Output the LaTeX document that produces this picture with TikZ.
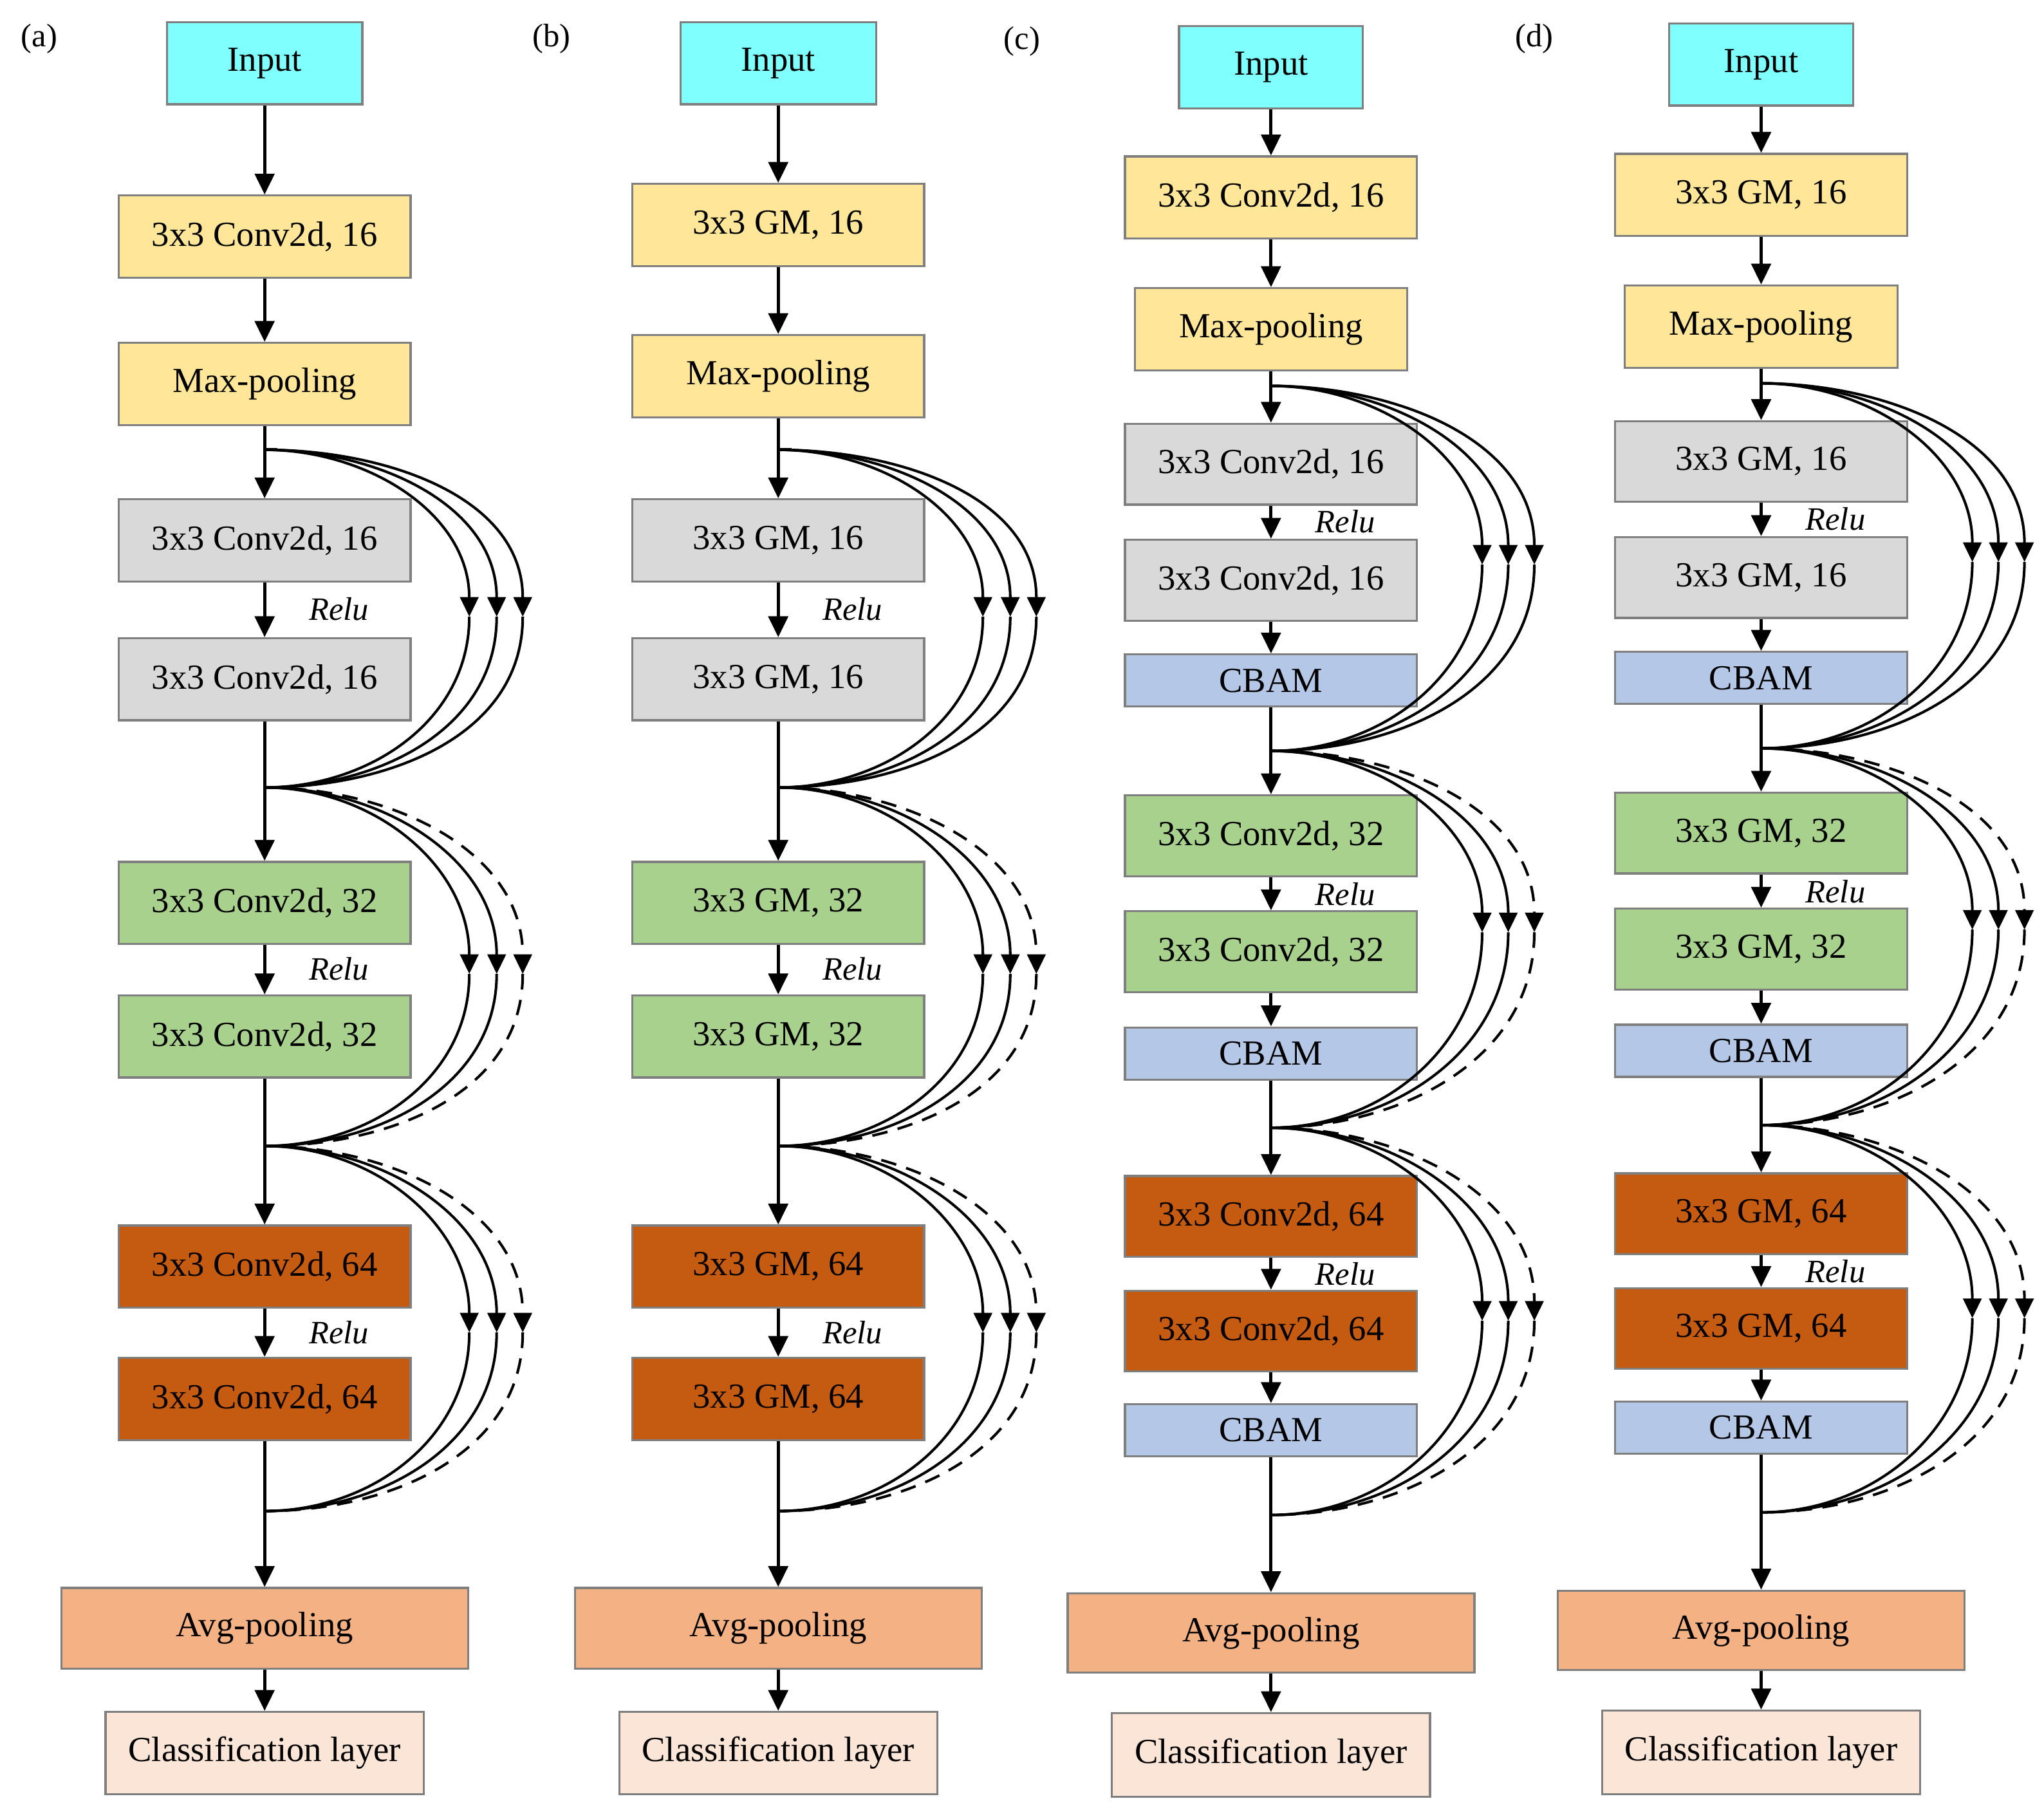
\documentclass[tikz,border=0pt]{standalone}
\usepackage{fontspec}
\setmainfont{Liberation Serif}
\usetikzlibrary{arrows.meta,calc}
\definecolor{cin}{HTML}{80FFFF}
\definecolor{cye}{HTML}{FFE699}
\definecolor{cgr}{HTML}{D9D9D9}
\definecolor{cgn}{HTML}{A9D18E}
\definecolor{cor}{HTML}{C55A11}
\definecolor{cav}{HTML}{F4B183}
\definecolor{ccl}{HTML}{FBE5D6}
\definecolor{ccb}{HTML}{B4C7E7}
\definecolor{cbd}{HTML}{7F7F7F}
\tikzset{
 box/.style={draw=cbd,line width=1.6pt,inner sep=0pt,font=\fontsize{27}{30}\selectfont},
 arr/.style={line width=2.4pt,-{Triangle[length=16pt,width=15pt]}},
 spine/.style={line width=2.4pt},
 arcl/.style={line width=2pt},
 arct/.style={line width=2pt,-{Triangle[length=15pt,width=14pt]}},
 dsh/.style={dash pattern=on 12pt off 8pt},
 relu/.style={font=\itshape\fontsize{25}{28}\selectfont},
 lab/.style={font=\fontsize{25}{28}\selectfont}
}
\newcommand\bx[7]{\node[box,#6,minimum width=#4pt,minimum height=#5pt] (#1) at (#2,#3) {#7};}
% arcs: j1, j2, ymid, x1, x2, x3, style of middle, style of outer
\newcommand\arcs[8]{%
 \foreach \xx/\st in {#4/,#5/#7,#6/#8}{%
  \draw[arct,\st] (#1) to[out=0,in=90,looseness=1] ($(#1)!0!(#1)+(0,0)$ -| \xx,#3) ;
 }}
\newcommand\arcpair[5]{% j1 j2 x ymid style
  \coordinate (tmpm) at (#3,#4);
  \coordinate (tmpe) at (#3,#4+10);
  \draw[arct,#5] (#1) to[out=0,in=90] (tmpe);
  \draw[arcl,#5] (tmpe) to[out=-90,in=0] (#2);
}
\begin{document}
\begin{tikzpicture}[x=1pt,y=-1pt]
\useasboundingbox (0,0) rectangle (1568,1395);
% labels
\node[lab] (la) at (30,30) {(a)};
\node[lab] (lb) at (423,30) {(b)};
\node[lab] (lc) at (784,32) {(c)};
\node[lab] (ld) at (1177,30) {(d)};
% ---------- columns a and b ----------
\foreach \p/\cx/\op/\yc/\ym in {a/203/Conv2d/181.5/294.5, b/597/GM/172.5/288.5}{
 \bx{\p in}{\cx}{48.5}{150}{63}{fill=cin}{Input}
 \bx{\p c0}{\cx}{\yc}{224}{63}{fill=cye}{3x3 \op, 16}
 \bx{\p mp}{\cx}{\ym}{224}{63}{fill=cye}{Max-pooling}
 \bx{\p g1}{\cx}{414.5}{224}{63}{fill=cgr}{3x3 \op, 16}
 \bx{\p g2}{\cx}{521}{224}{63}{fill=cgr}{3x3 \op, 16}
 \bx{\p n1}{\cx}{692.5}{224}{63}{fill=cgn}{3x3 \op, 32}
 \bx{\p n2}{\cx}{795}{224}{63}{fill=cgn}{3x3 \op, 32}
 \bx{\p o1}{\cx}{971.5}{224}{63}{fill=cor}{3x3 \op, 64}
 \bx{\p o2}{\cx}{1073}{224}{63}{fill=cor}{3x3 \op, 64}
 \bx{\p av}{\cx}{1249}{312}{62}{fill=cav}{Avg-pooling}
 \bx{\p cl}{\cx}{1344.5}{244}{63}{fill=ccl}{Classification layer}
 \node[relu] (\p r1) at (\cx+57,467) {Relu};
 \node[relu] (\p r2) at (\cx+57,743) {Relu};
 \node[relu] (\p r3) at (\cx+57,1022) {Relu};
 \coordinate (\p j1) at (\cx,345);
 \coordinate (\p j2) at (\cx,604);
 \coordinate (\p j3) at (\cx,879);
 \coordinate (\p j4) at (\cx,1159);
 \draw[arr] (\p in) -- (\p c0);
 \draw[arr] (\p c0) -- (\p mp);
 \draw[arr] (\p mp) -- (\p g1);
 \draw[arr] (\p g1) -- (\p g2);
 \draw[arr] (\p g2) -- (\p n1);
 \draw[arr] (\p n1) -- (\p n2);
 \draw[arr] (\p n2) -- (\p o1);
 \draw[arr] (\p o1) -- (\p o2);
 \draw[arr] (\p o2) -- (\p av);
 \draw[arr] (\p av) -- (\p cl);
 \draw[spine] (\p j1) -- ++(10,0);
 \arcpair{\p j1}{\p j2}{\cx+157}{463}{}
 \arcpair{\p j1}{\p j2}{\cx+178}{463}{}
 \arcpair{\p j1}{\p j2}{\cx+198}{463}{}
 \arcpair{\p j2}{\p j3}{\cx+157}{737}{}
 \arcpair{\p j2}{\p j3}{\cx+178}{737}{}
 \arcpair{\p j2}{\p j3}{\cx+198}{737}{dsh}
 \arcpair{\p j3}{\p j4}{\cx+157}{1012}{}
 \arcpair{\p j3}{\p j4}{\cx+178}{1012}{}
 \arcpair{\p j3}{\p j4}{\cx+198}{1012}{dsh}
}
% ---------- columns c and d ----------
\foreach \p/\cx/\op/\d in {c/975/Conv2d/0, d/1351/GM/-2}{
 \bx{\p in}{\cx}{51.5+\d}{141}{63}{fill=cin}{Input}
 \bx{\p c0}{\cx}{151.5+\d}{224}{63}{fill=cye}{3x3 \op, 16}
 \bx{\p mp}{\cx}{252.5+\d}{209}{63}{fill=cye}{Max-pooling}
 \bx{\p g1}{\cx}{356+\d}{224}{62}{fill=cgr}{3x3 \op, 16}
 \bx{\p g2}{\cx}{445+\d}{224}{62}{fill=cgr}{3x3 \op, 16}
 \bx{\p b1}{\cx}{522+\d}{224}{40}{fill=ccb}{CBAM}
 \bx{\p n1}{\cx}{641+\d}{224}{62}{fill=cgn}{3x3 \op, 32}
 \bx{\p n2}{\cx}{730+\d}{224}{62}{fill=cgn}{3x3 \op, 32}
 \bx{\p b2}{\cx}{808+\d}{224}{40}{fill=ccb}{CBAM}
 \bx{\p o1}{\cx}{933+\d}{224}{62}{fill=cor}{3x3 \op, 64}
 \bx{\p o2}{\cx}{1021+\d}{224}{62}{fill=cor}{3x3 \op, 64}
 \bx{\p b3}{\cx}{1097+\d}{224}{40}{fill=ccb}{CBAM}
 \bx{\p av}{\cx}{1252.5+\d}{312}{61}{fill=cav}{Avg-pooling}
 \bx{\p cl}{\cx}{1346+\d}{244}{64}{fill=ccl}{Classification layer}
 \node[relu] (\p r1) at (\cx+57,400+\d) {Relu};
 \node[relu] (\p r2) at (\cx+57,686+\d) {Relu};
 \node[relu] (\p r3) at (\cx+57,977+\d) {Relu};
 \coordinate (\p j1) at (\cx,296+\d);
 \coordinate (\p j2) at (\cx,576+\d);
 \coordinate (\p j3) at (\cx,865+\d);
 \coordinate (\p j4) at (\cx,1162+\d);
 \draw[arr] (\p in) -- (\p c0);
 \draw[arr] (\p c0) -- (\p mp);
 \draw[arr] (\p mp) -- (\p g1);
 \draw[arr] (\p g1) -- (\p g2);
 \draw[arr] (\p g2) -- (\p b1);
 \draw[arr] (\p b1) -- (\p n1);
 \draw[arr] (\p n1) -- (\p n2);
 \draw[arr] (\p n2) -- (\p b2);
 \draw[arr] (\p b2) -- (\p o1);
 \draw[arr] (\p o1) -- (\p o2);
 \draw[arr] (\p o2) -- (\p b3);
 \draw[arr] (\p b3) -- (\p av);
 \draw[arr] (\p av) -- (\p cl);
 \arcpair{\p j1}{\p j2}{\cx+162}{423+\d}{}
 \arcpair{\p j1}{\p j2}{\cx+182}{423+\d}{}
 \arcpair{\p j1}{\p j2}{\cx+202}{423+\d}{}
 \arcpair{\p j2}{\p j3}{\cx+162}{705+\d}{}
 \arcpair{\p j2}{\p j3}{\cx+182}{705+\d}{}
 \arcpair{\p j2}{\p j3}{\cx+202}{705+\d}{dsh}
 \arcpair{\p j3}{\p j4}{\cx+162}{1003+\d}{}
 \arcpair{\p j3}{\p j4}{\cx+182}{1003+\d}{}
 \arcpair{\p j3}{\p j4}{\cx+202}{1003+\d}{dsh}
}
\end{tikzpicture}
\end{document}
